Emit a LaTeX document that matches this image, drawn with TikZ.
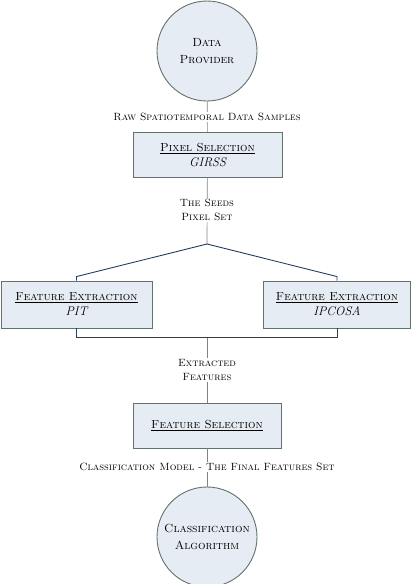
\documentclass[tikz,border=0pt]{standalone}
\usepackage{tikz}
\usetikzlibrary{arrows.meta}

\definecolor{boxfill}{RGB}{230,236,243}
\definecolor{boxline}{RGB}{100,114,108}
\definecolor{linkline}{RGB}{120,132,145}
\definecolor{branchline}{RGB}{38,62,96}

\newcommand{\algname}[1]{{\normalfont\itshape\fontsize{12.5}{15}\selectfont #1}}

\begin{document}
\begin{tikzpicture}[x=1pt,y=1pt,
        font=\scshape\fontsize{10.5}{14}\selectfont,
        proc/.style={draw=boxline,line width=0.9pt,fill=boxfill,circle,minimum size=100pt,align=center,inner sep=0pt,font=\scshape\fontsize{11.8}{16.5}\selectfont},
        stage/.style={draw=boxline,line width=0.9pt,fill=boxfill,rectangle,minimum height=45pt,align=center,inner sep=0pt,font=\scshape\fontsize{11.7}{15}\selectfont},
        flowlabel/.style={fill=white,align=center,inner sep=1.5pt},
        link/.style={draw=linkline,line width=0.7pt},
        branch/.style={draw=branchline,line width=0.9pt}]
        \useasboundingbox (0,0) rectangle (411,-584);

        \node[proc] (provider) at (207,-51) {Data\\Provider};
        \node[stage,minimum width=149pt] (pixsel) at (207.5,-155) {\underline{Pixel Selection}\\\algname{GIRSS}};
        \node[stage,minimum width=151pt,minimum height=47pt] (featpit) at (76.5,-304.5) {\underline{Feature Extraction}\\\algname{PIT}};
        \node[stage,minimum width=147pt,minimum height=47pt] (featipc) at (337,-304.5) {\underline{Feature Extraction}\\\algname{IPCOSA}};
        \node[stage,minimum width=148pt] (featsel) at (207,-425.5) {\underline{Feature Selection}};
        \node[proc] (algo) at (207,-537) {Classification\\Algorithm};

        \coordinate (split) at (207,-244);
        \coordinate (merge) at (207,-337);

        % vertical links
        \draw[link] (provider) -- (pixsel);
        \draw[link] (pixsel) -- (split);
        \draw[link] (merge) -- (featsel);
        \draw[link] (featsel) -- (algo);

        % split and merge of the two extractions
        \draw[branch] (split) -- ([yshift=4pt]featpit.north) -- (featpit.north);
        \draw[branch] (split) -- ([yshift=4pt]featipc.north) -- (featipc.north);
        \draw[branch] (featpit.south) -- (featpit.south |- merge) -- (featipc.south |- merge) -- (featipc.south);

        \node[flowlabel] (rawlabel) at (207,-117) {Raw Spatiotemporal Data Samples};
        \node[flowlabel] (seedlabel) at (207,-210) {The Seeds\\Pixel Set};
        \node[flowlabel] (extlabel) at (207,-370) {Extracted\\Features};
        \node[flowlabel] (modellabel) at (207,-467) {Classification Model - The Final Features Set};
    \end{tikzpicture}
\end{document}
